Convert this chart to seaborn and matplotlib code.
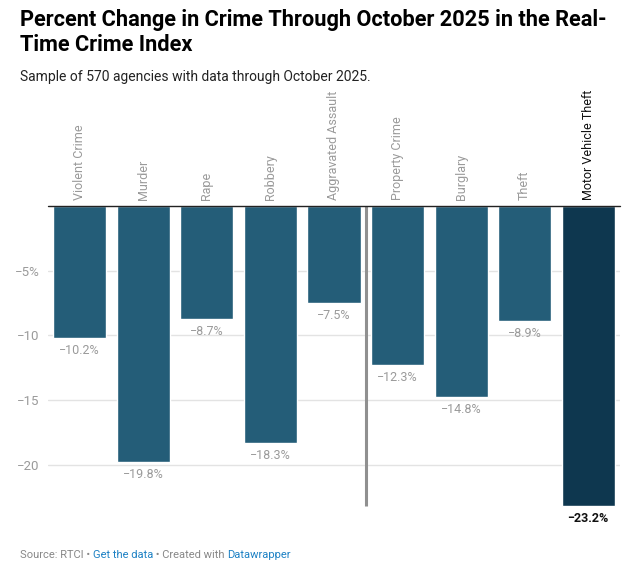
import matplotlib
matplotlib.use("Agg")
import matplotlib.pyplot as plt
import seaborn as sns
import pandas as pd

categories = ["Violent Crime", "Murder", "Rape", "Robbery", "Aggravated Assault",
              "Property Crime", "Burglary", "Theft", "Motor Vehicle Theft"]
values = [-10.2, -19.8, -8.7, -18.3, -7.5, -12.3, -14.8, -8.9, -23.2]
highlight = [False, False, False, False, False, False, False, False, True]
yticks = [-5, -10, -15, -20]
ytick_labels = ["−5%", "−10", "−15", "−20"]

sns.set_theme(style="white")
plt.rcParams['font.family'] = ['Roboto', 'DejaVu Sans']

df = pd.DataFrame({"cat": categories, "val": values,
                   "grp": ["hi" if h else "lo" for h in highlight]})

W, H = 639, 567
fig = plt.figure(figsize=(W / 100, H / 100), dpi=100)
ax_left, ax_right = 48, 620
ax_top, ax_bottom = 206, 510
ax = fig.add_axes([ax_left / W, 1 - ax_bottom / H, (ax_right - ax_left) / W, (ax_bottom - ax_top) / H])

sns.barplot(data=df, x="cat", y="val", hue="grp", order=categories,
            palette={"lo": "#245d78", "hi": "#0e374f"}, dodge=False,
            width=0.835, legend=False, ax=ax, saturation=1)

ax.set_xlim(-0.5, 8.5)
ax.set_ylim(-23.5, 0)
ax.set_xlabel("")
ax.set_ylabel("")
ax.set_xticks([])
ax.set_yticks(yticks)
ax.set_yticklabels(ytick_labels)
ax.tick_params(axis="y", length=0, pad=6, labelsize=9.5, labelcolor="#9a9a9a")
for s in ax.spines.values():
    s.set_visible(False)
for t in yticks:
    ax.axhline(t, color="#e3e3e3", lw=1, zorder=0)
ax.axhline(0, color="#222222", lw=1.0, zorder=5, clip_on=False)
ax.set_axisbelow(True)

# divider between violent and property crime
ax.plot([4.5, 4.5], [0, -23.2], color="#909090", lw=2.2, solid_capstyle="butt", zorder=4)

for i, (c, v, h) in enumerate(zip(categories, values, highlight)):
    ax.annotate(c, xy=(i, 0), xytext=(0, 4), textcoords="offset points",
                rotation=90, ha="center", va="bottom", fontsize=9,
                color="#111111" if h else "#9a9a9a", annotation_clip=False)
    lab = f"−{abs(v):.1f}%"
    ax.annotate(lab, xy=(i, v), xytext=(0, -9), textcoords="offset points",
                ha="center", va="center", fontsize=9,
                color="#111111" if h else "#9a9a9a",
                fontweight="bold" if h else "normal", annotation_clip=False)

fig.text(20 / W, 1 - 9 / H, "Percent Change in Crime Through October 2025 in the Real-\nTime Crime Index",
         ha="left", va="top", fontsize=15.7, fontweight="bold", color="#000000", linespacing=1.2)
fig.text(20 / W, 1 - 77 / H, "Sample of 570 agencies with data through October 2025.",
         ha="left", va="center", fontsize=10, color="#222222")

t1 = fig.text(20 / W, 1 - 555 / H, "Source: RTCI • ", ha="left", va="center", fontsize=8, color="#888888")
a1 = plt.annotate("Get the data", xy=(1, 0), xycoords=t1, va="bottom", ha="left",
                  fontsize=8, color="#1d81c4", annotation_clip=False)
a2 = plt.annotate(" • Created with ", xy=(1, 0), xycoords=a1, va="bottom", ha="left",
                  fontsize=8, color="#888888", annotation_clip=False)
a3 = plt.annotate("Datawrapper", xy=(1, 0), xycoords=a2, va="bottom", ha="left",
                  fontsize=8, color="#1d81c4", annotation_clip=False)

fig.savefig("out.png", dpi=100)
